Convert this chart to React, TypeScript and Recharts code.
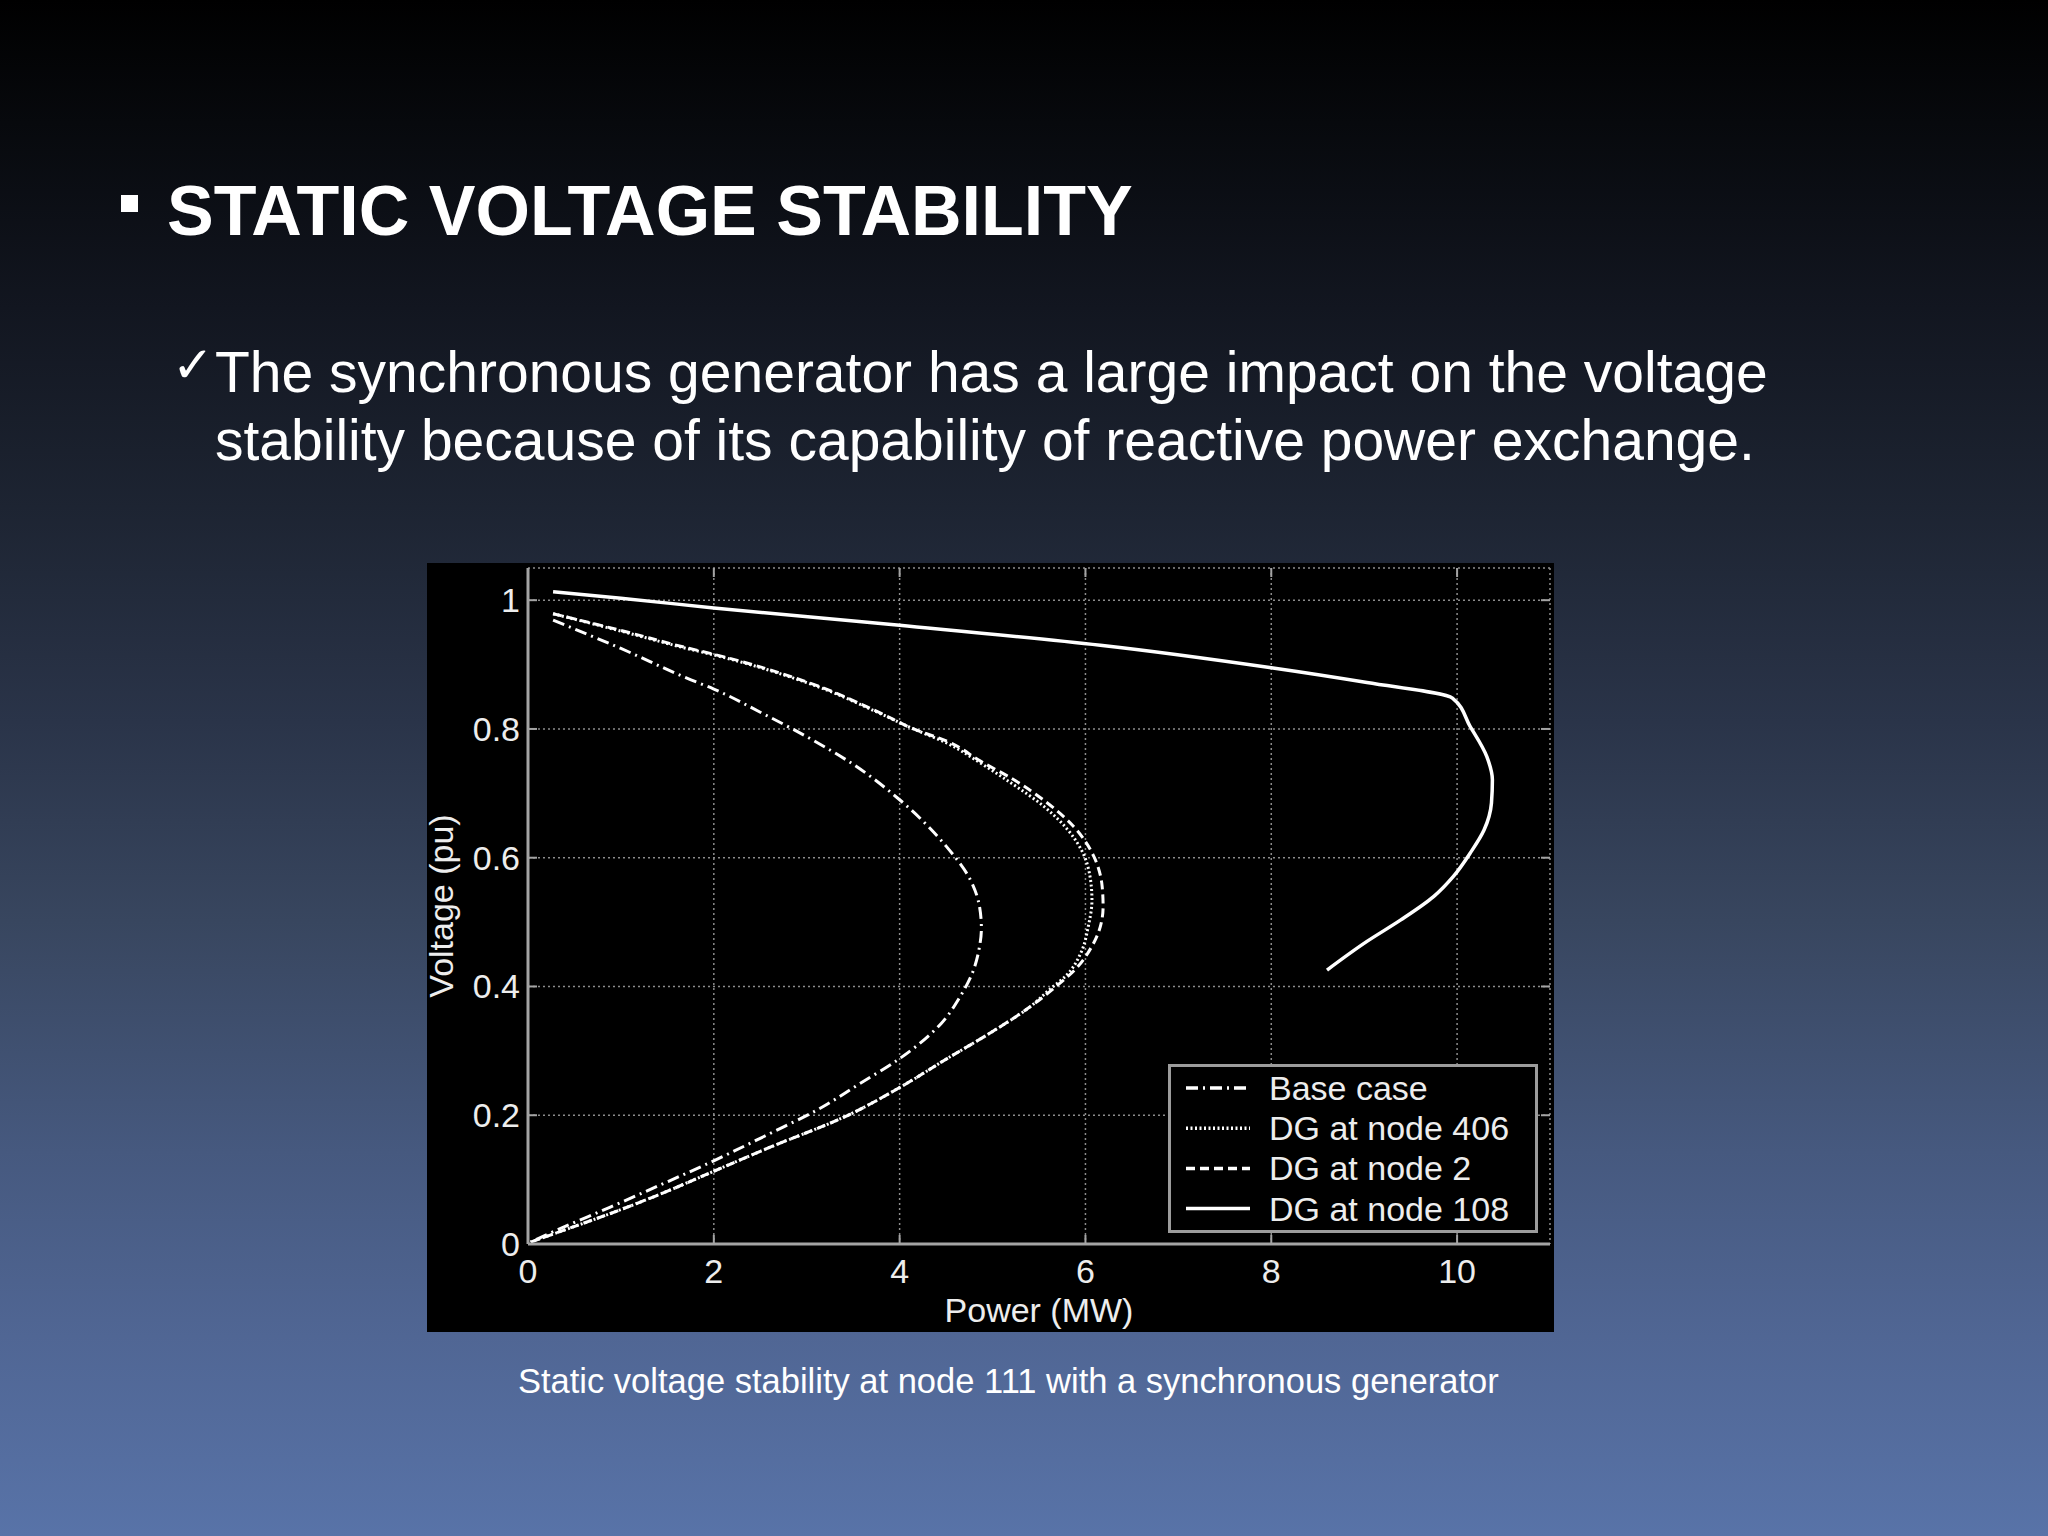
import React from 'react';
import { LineChart, Line, XAxis, YAxis, CartesianGrid, Legend, Label } from 'recharts';

// ---- data (Power MW, Voltage pu) in path order ----
const BASE_CASE: [number, number][] = [
  [0.27, 0.969], [1.0, 0.925], [1.71, 0.879], [2.0, 0.862], [2.5, 0.826], [3.0, 0.788], [3.5, 0.745],
  [4.0, 0.69], [4.5, 0.618], [4.76, 0.566], [4.86, 0.524], [4.88, 0.49], [4.86, 0.462], [4.78, 0.42],
  [4.65, 0.384], [4.45, 0.343], [4.22, 0.312], [3.99, 0.287], [3.57, 0.249], [3.11, 0.208],
  [2.61, 0.172], [2.01, 0.13], [1.46, 0.094], [0.88, 0.057], [0.3, 0.021], [0.03, 0.003],
];

const DG_NODE_406: [number, number][] = [
  [0.27, 0.979], [1.0, 0.952], [1.71, 0.925], [2.0, 0.915], [3.0, 0.872], [3.79, 0.824], [4.15, 0.8],
  [4.51, 0.778], [4.87, 0.747], [5.2, 0.716], [5.55, 0.68], [5.8, 0.645], [5.98, 0.605], [6.05, 0.57],
  [6.07, 0.534], [6.03, 0.493], [5.95, 0.452], [5.8, 0.418], [5.62, 0.396], [5.4, 0.368], [5.0, 0.33],
  [4.5, 0.287], [4.0, 0.243], [3.4, 0.197], [2.6, 0.15], [2.0, 0.113], [1.45, 0.079], [0.88, 0.047],
  [0.3, 0.017], [0.03, 0.003],
];

const DG_NODE_2: [number, number][] = [
  [0.27, 0.979], [1.0, 0.953], [1.71, 0.926], [2.0, 0.916], [3.0, 0.873], [3.79, 0.825], [4.15, 0.8],
  [4.51, 0.781], [4.87, 0.75], [5.23, 0.721], [5.59, 0.685], [5.87, 0.649], [6.09, 0.602], [6.18, 0.555],
  [6.19, 0.524], [6.16, 0.493], [6.06, 0.46], [5.9, 0.428], [5.7, 0.402], [5.4, 0.368], [5.0, 0.33],
  [4.5, 0.287], [4.0, 0.243], [3.4, 0.197], [2.6, 0.15], [2.0, 0.113], [1.45, 0.079], [0.88, 0.047],
  [0.3, 0.017], [0.03, 0.003],
];

const DG_NODE_108: [number, number][] = [
  [0.27, 1.013], [1.0, 1.003], [2.0, 0.988], [4.0, 0.961], [6.16, 0.93], [8.0, 0.895], [9.03, 0.872],
  [9.95, 0.848], [10.14, 0.804], [10.32, 0.757], [10.38, 0.721], [10.37, 0.685], [10.29, 0.643],
  [10.14, 0.607], [9.96, 0.571], [9.75, 0.54], [9.39, 0.503], [9.03, 0.47], [8.6, 0.4255],
];

const X_TICKS = [0, 2, 4, 6, 8, 10];
const Y_TICKS = [0, 0.2, 0.4, 0.6, 0.8, 1];
const X_DOMAIN: [number, number] = [0, 11];
const Y_DOMAIN: [number, number] = [0, 1.05];

const SERIES = [
  { name: 'Base case', points: BASE_CASE, dash: '12 5 2 5' },
  { name: 'DG at node 406', points: DG_NODE_406, dash: '2 2.5' },
  { name: 'DG at node 2', points: DG_NODE_2, dash: '9 5' },
  { name: 'DG at node 108', points: DG_NODE_108, dash: undefined },
];

// ---- layout ----
const FONT = '"Liberation Sans", Arial, Helvetica, sans-serif';
const PAD = 20; // extra svg room left of the black panel
const BOX_W = 1127;
const CH_W = BOX_W + PAD;
const CH_H = 769;
const MARGIN = { top: 5, right: 4, left: 11 + PAD, bottom: 8 };
const Y_AXIS_W = 90;
const X_AXIS_H = 80;
const PLOT_TOP = MARGIN.top;
const PLOT_RIGHT = CH_W - MARGIN.right;
const TICK_LEN = 9;
const AXIS_COLOR = '#a4a4a4';
const TEXT_COLOR = '#ededed';

const XTick = (props: any) => {
  const { x, y, payload } = props;
  return (
    <g>
      <line x1={x} x2={x} y1={y} y2={y - TICK_LEN} stroke={AXIS_COLOR} strokeWidth={2} />
      <line x1={x} x2={x} y1={PLOT_TOP} y2={PLOT_TOP + TICK_LEN} stroke={AXIS_COLOR} strokeWidth={2} />
      <text x={x} y={y + 27} textAnchor="middle" dominantBaseline="central" fill={TEXT_COLOR} fontSize={34} fontFamily={FONT}>
        {String(payload.value)}
      </text>
    </g>
  );
};

const YTick = (props: any) => {
  const { x, y, payload } = props;
  return (
    <g>
      <line x1={x} x2={x + TICK_LEN} y1={y} y2={y} stroke={AXIS_COLOR} strokeWidth={2} />
      <line x1={PLOT_RIGHT} x2={PLOT_RIGHT - TICK_LEN} y1={y} y2={y} stroke={AXIS_COLOR} strokeWidth={2} />
      <text x={x - 8} y={y} textAnchor="end" dominantBaseline="central" fill={TEXT_COLOR} fontSize={34} fontFamily={FONT}>
        {String(payload.value)}
      </text>
    </g>
  );
};

const renderLegend = (props: any) => {
  const order = SERIES.map((s) => s.name);
  const payload = [...(props.payload || [])].sort(
    (a: any, b: any) => order.indexOf(a.value) - order.indexOf(b.value)
  );
  return (
    <svg width={370} height={169} style={{ display: 'block' }}>
      <rect x={1.5} y={1.5} width={367} height={166} fill="#000" stroke="#9c9c9c" strokeWidth={3} />
      {payload.map((p: any, i: number) => {
        const s = SERIES.find((d) => d.name === p.value);
        const cy = 24 + i * 40.2;
        return (
          <g key={p.value}>
            <line x1={18} x2={82} y1={cy} y2={cy} stroke="#ffffff" strokeWidth={3.5} strokeDasharray={s ? s.dash : undefined} />
            <text x={101} y={cy} dominantBaseline="central" fill={TEXT_COLOR} fontSize={34} fontFamily={FONT}>
              {p.value}
            </text>
          </g>
        );
      })}
    </svg>
  );
};

export default function App() {
  return (
    <div
      style={{
        position: 'absolute',
        left: 0,
        top: 0,
        width: 2048,
        height: 1536,
        overflow: 'hidden',
        fontFamily: FONT,
        color: '#ffffff',
        background:
          'linear-gradient(to bottom, #000000 0%, #07090d 8%, #121620 20%, #1d2432 33%, #2a3449 47%, #38465f 60%, #46597f 75%, #506694 87%, #5873a8 100%)',
      }}
    >
      {/* title */}
      <div style={{ position: 'absolute', left: 121, top: 195, width: 17, height: 17, background: '#ffffff' }} />
      <div
        style={{
          position: 'absolute',
          left: 167,
          top: 176,
          fontSize: 70,
          lineHeight: '70px',
          fontWeight: 'bold',
          whiteSpace: 'nowrap',
        }}
      >
        STATIC VOLTAGE STABILITY
      </div>

      {/* bullet text */}
      <div
        style={{
          position: 'absolute',
          left: 172,
          top: 340,
          fontSize: 50,
          lineHeight: '50px',
          fontFamily: '"DejaVu Sans", sans-serif',
        }}
      >
        ✓
      </div>
      <div
        style={{
          position: 'absolute',
          left: 215,
          top: 338,
          fontSize: 57,
          lineHeight: '68px',
          whiteSpace: 'nowrap',
        }}
      >
        The synchronous generator has a large impact on the voltage
        <br />
        stability because of its capability of reactive power exchange.
      </div>

      {/* chart panel */}
      <div style={{ position: 'absolute', left: 427, top: 563, width: BOX_W, height: CH_H, background: '#000000' }} />
      <div style={{ position: 'absolute', left: 427 - PAD, top: 563, width: CH_W, height: CH_H }}>
        <LineChart width={CH_W} height={CH_H} margin={MARGIN}>
          <CartesianGrid stroke="#8c8c8c" strokeDasharray="2 3" strokeWidth={1.5} />
          <XAxis
            xAxisId={0}
            type="number"
            dataKey="x"
            domain={X_DOMAIN}
            ticks={X_TICKS}
            allowDataOverflow
            height={X_AXIS_H}
            tickSize={0}
            tickMargin={0}
            tickLine={false}
            axisLine={{ stroke: AXIS_COLOR, strokeWidth: 3 }}
            tick={XTick}
            interval={0}
          >
            <Label
              content={(p: any) => {
                const vb = p.viewBox || {};
                return (
                  <text
                    x={vb.x + vb.width / 2}
                    y={vb.y + 66}
                    textAnchor="middle"
                    dominantBaseline="central"
                    fill={TEXT_COLOR}
                    fontSize={34}
                    fontFamily={FONT}
                  >
                    Power (MW)
                  </text>
                );
              }}
            />
          </XAxis>
          <XAxis
            xAxisId="top"
            orientation="top"
            type="number"
            domain={X_DOMAIN}
            height={0}
            tick={false}
            tickLine={false}
            axisLine={{ stroke: AXIS_COLOR, strokeWidth: 3 }}
          />
          <YAxis
            yAxisId={0}
            type="number"
            domain={Y_DOMAIN}
            ticks={Y_TICKS}
            allowDataOverflow
            width={Y_AXIS_W}
            tickSize={0}
            tickMargin={0}
            tickLine={false}
            axisLine={{ stroke: AXIS_COLOR, strokeWidth: 3 }}
            tick={YTick}
            interval={0}
          >
            <Label
              content={(p: any) => {
                const vb = p.viewBox || {};
                const cx = vb.x + 15;
                const cy = vb.y + vb.height / 2;
                return (
                  <text
                    x={cx}
                    y={cy}
                    transform={`rotate(-90 ${cx} ${cy})`}
                    textAnchor="middle"
                    fill={TEXT_COLOR}
                    fontSize={34}
                    fontFamily={FONT}
                  >
                    Voltage (pu)
                  </text>
                );
              }}
            />
          </YAxis>
          <YAxis
            yAxisId="right"
            orientation="right"
            type="number"
            domain={Y_DOMAIN}
            width={0}
            tick={false}
            tickLine={false}
            axisLine={{ stroke: AXIS_COLOR, strokeWidth: 3 }}
          />
          {SERIES.map((s) => (
            <Line
              key={s.name}
              xAxisId={0}
              yAxisId={0}
              name={s.name}
              data={s.points.map(([x, y]) => ({ x, y }))}
              dataKey="y"
              type="monotoneY"
              stroke="#ffffff"
              strokeWidth={s.dash ? 3 : 3.5}
              strokeDasharray={s.dash}
              dot={false}
              activeDot={false}
              isAnimationActive={false}
              legendType="line"
            />
          ))}
          <Legend
            layout="vertical"
            align="center"
            verticalAlign="middle"
            width={370}
            content={renderLegend}
            wrapperStyle={{ left: 741 + PAD, top: 501, width: 370, height: 169 }}
          />
        </LineChart>
      </div>

      {/* caption */}
      <div
        style={{
          position: 'absolute',
          left: 518,
          top: 1364,
          fontSize: 34.5,
          lineHeight: '34px',
          whiteSpace: 'nowrap',
        }}
      >
        Static voltage stability at node 111 with a synchronous generator
      </div>
    </div>
  );
}
